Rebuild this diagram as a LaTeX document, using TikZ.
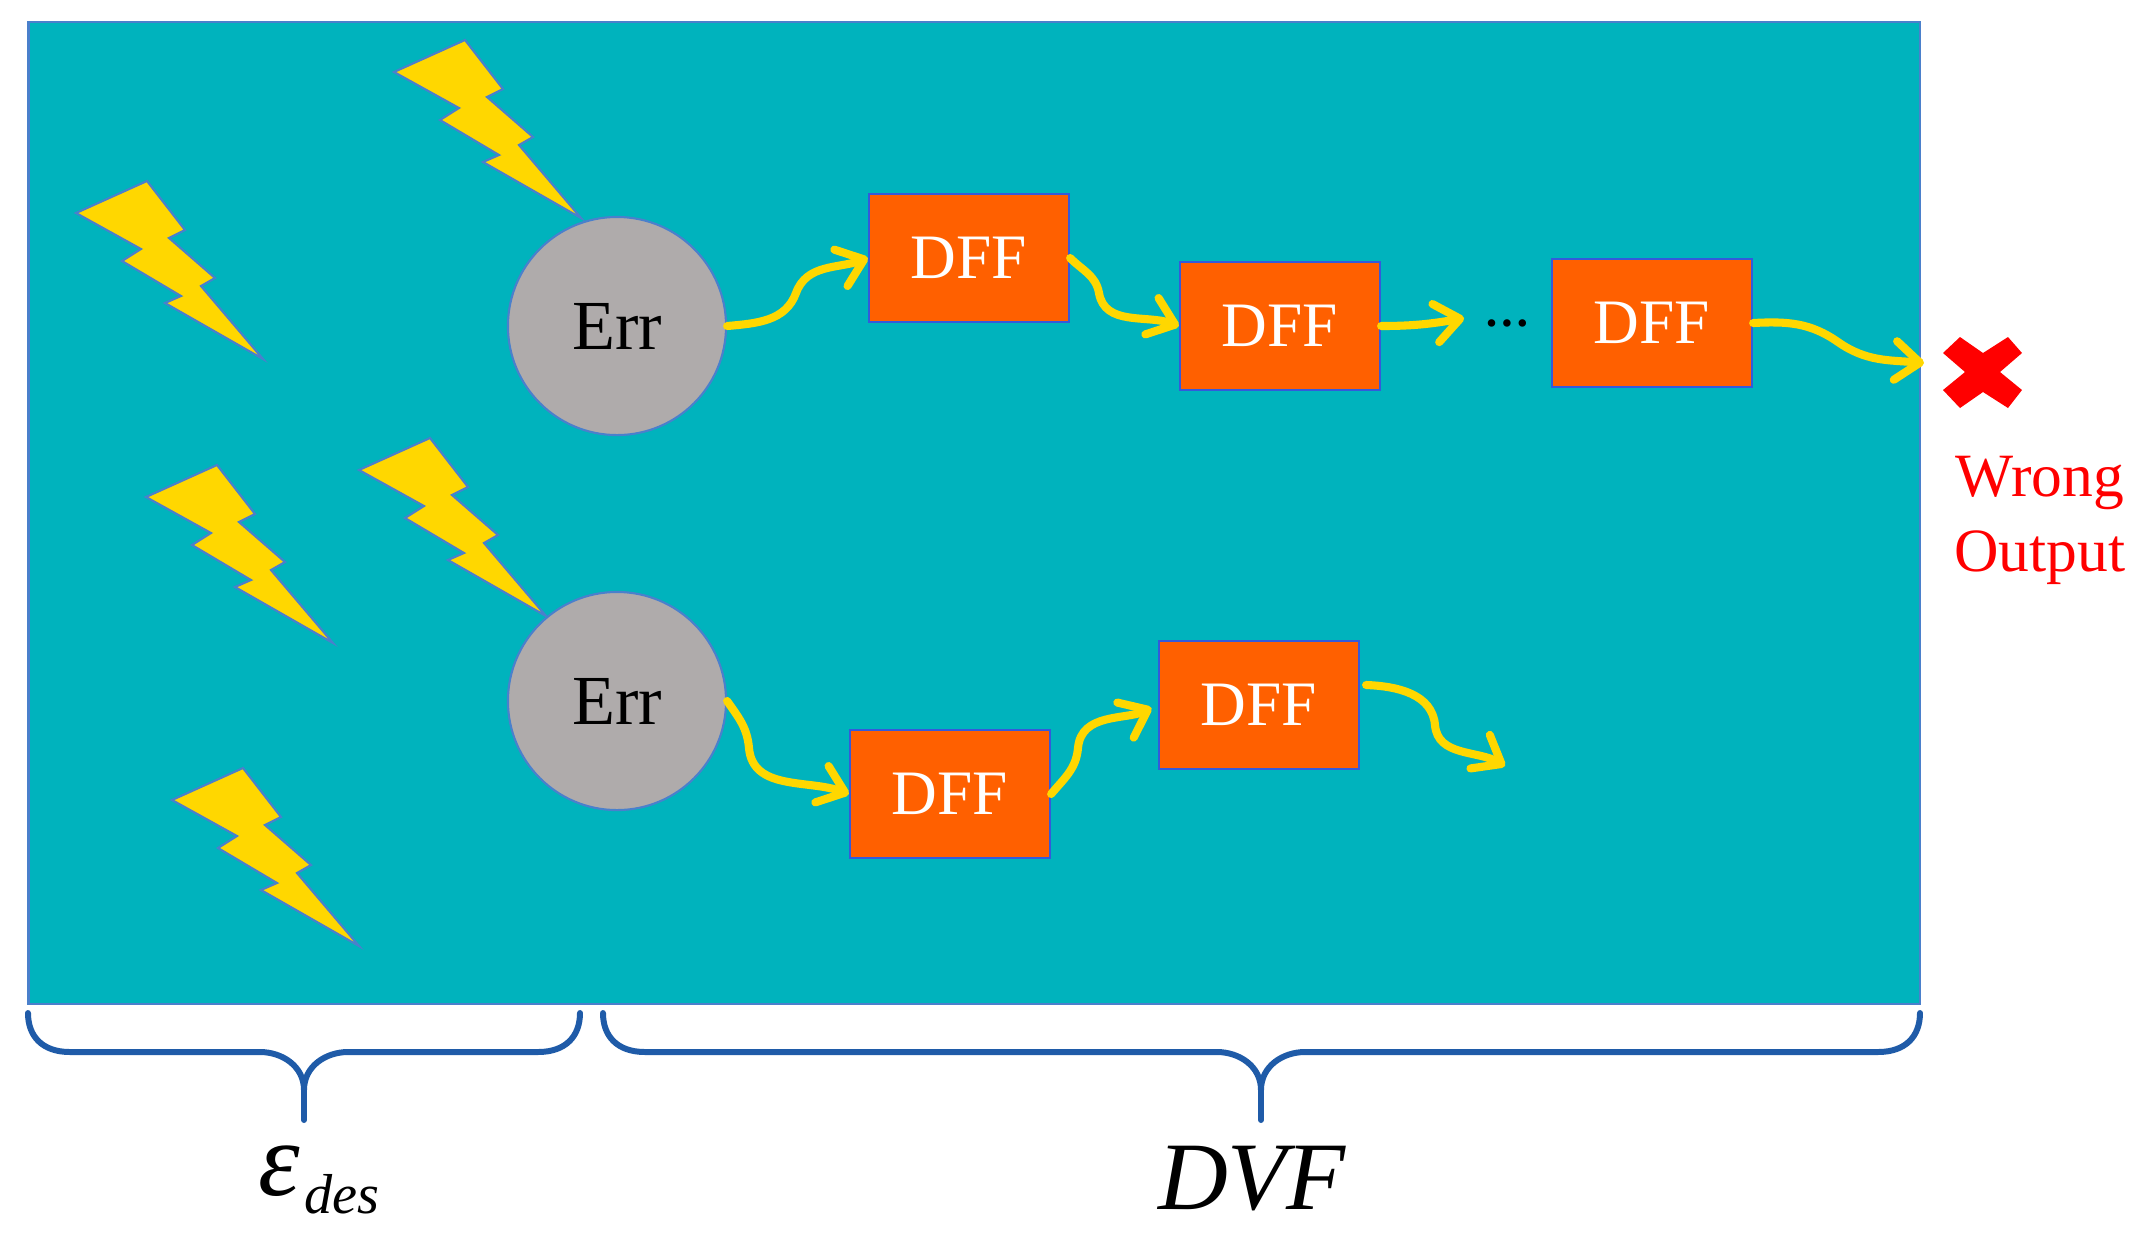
\documentclass[tikz,border=0pt]{standalone}
\usepackage{fontspec}
\setmainfont{Liberation Serif}
\usetikzlibrary{arrows.meta}
\definecolor{panelfill}{HTML}{00B3BD}
\definecolor{edgeblue}{HTML}{4A80CC}
\definecolor{errgrey}{HTML}{AFABAB}
\definecolor{dffred}{HTML}{FF6000}
\definecolor{wireyel}{HTML}{FFD700}
\definecolor{braceblue}{HTML}{1F5BA8}
\newcommand{\bracefrom}[3]{%
  (#1,1013) .. controls (#1,1036) and (#1+14,1052) .. (#1+42,1052)
  -- (#2-44,1052) .. controls (#2-22,1052) and (#2,1066) .. (#2,1090)
  -- (#2,1120) (#2,1090) .. controls (#2,1066) and (#2+22,1052) .. (#2+44,1052)
  -- (#3-42,1052) .. controls (#3-14,1052) and (#3,1036) .. (#3,1013)}
\begin{document}
\begin{tikzpicture}[x=0.01cm, y=-0.01cm, line width=0.6pt,
        err/.style={circle, draw=edgeblue, fill=errgrey, minimum size=2.18cm, inner sep=0pt, font=\fontsize{20}{24}\selectfont},
        dff/.style={rectangle, draw=edgeblue!70!blue, fill=dffred, text=white, minimum width=2cm, minimum height=1.28cm, inner sep=0pt, font=\fontsize{18}{22}\selectfont},
        wire/.style={draw=wireyel, line width=2.3pt, line cap=round, -{Straight Barb[length=7pt, width=11pt, line width=2.3pt, round]}},
        bolt/.style={draw=edgeblue, fill=wireyel, line join=miter}]
            \useasboundingbox (0,0) rectangle (2150,1244);
            \node [rectangle, draw=edgeblue, fill=panelfill, minimum width=18.9cm, minimum height=9.82cm, inner sep=0pt] (panel) at (974,513) {};

            \foreach \bx/\by in {465/40, 147/181, 217/465, 430/438, 243/768} {
                \draw [bolt, shift={(\bx,\by)}] (0,0) -- (38,49) -- (22,57) -- (68,97) -- (54,105) -- (116,178)
                    -- (18,122) -- (34,115) -- (-25,80) -- (-6,68) -- (-71,32) -- cycle;
            }

            \node [err] (errone) at (617,326) {Err};
            \node [err] (errtwo) at (617,701) {Err};
            \node [dff] (dffa) at (969,258) {DFF};
            \node [dff] (dffb) at (1280,326) {DFF};
            \node [dff] (dffc) at (1652,323) {DFF};
            \node [dff] (dffd) at (950,794) {DFF};
            \node [dff] (dffe) at (1259,705) {DFF};
            \node [inner xsep=0.19cm, inner ysep=0pt, font=\fontsize{13}{13}\selectfont\bfseries] (dots) at (1507,323) {…};
            \coordinate (wrongend) at (1924,363);
            \coordinate (openend) at (1505,766);
            \coordinate (bendone) at (796,293);
            \coordinate (bendtwo) at (1099,293);
            \coordinate (bendthree) at (1838,342);
            \coordinate (bendfour) at (749,748);
            \coordinate (bendfive) at (1078,748);
            \coordinate (bendsix) at (1435,725);

            \draw [wire] (errone.east) to[out=5, in=-110] (bendone) to[out=70, in=200] (dffa.west);
            \draw [wire] (dffa.east) to[out=-45, in=100] (bendtwo) to[out=-80, in=160] (dffb.west);
            \draw [wire] (dffb.east) to[out=0, in=190] ([yshift=1.4pt]dots.west);
            \draw [wire] (dffc.east) to[out=3, in=145] (bendthree) to[out=-35, in=175] (wrongend);
            \draw [wire] (errtwo.east) to[out=-55, in=95] (bendfour) to[out=-85, in=160] (dffd.west);
            \draw [wire, shorten >=2pt] (dffd.east) to[out=50, in=-95] (bendfive) to[out=85, in=205] (dffe.west);
            \draw [wire] ([yshift=0.2cm, xshift=0.06cm]dffe.east) to[out=-2, in=95] (bendsix) to[out=-85, in=150] (openend);

            \fill [red] (1960,337) -- (1983,353) -- (2008,337) -- (2022,353) -- (2000,372) -- (2022,390)
                -- (2008,408) -- (1983,392) -- (1960,408) -- (1943,390) -- (1965,372) -- (1943,353) -- cycle;
            \node [text=red, align=center, font=\fontsize{17.5}{21.3}\selectfont] (wrong) at (2040,520) {Wrong\\Output};

            \draw [braceblue, line width=1.7pt, line cap=round] \bracefrom{28}{304}{580};
            \draw [braceblue, line width=1.7pt, line cap=round] \bracefrom{603}{1261}{1920};

            \node [font=\fontsize{30}{30}\selectfont\itshape] (eps) at (319,1180) {ε\hspace{1pt}\raisebox{-5pt}{\fontsize{16}{18}\selectfont des}};
            \node [font=\fontsize{27.5}{32}\selectfont\itshape] (dvf) at (1252,1179) {DVF};
        \end{tikzpicture}
\end{document}
